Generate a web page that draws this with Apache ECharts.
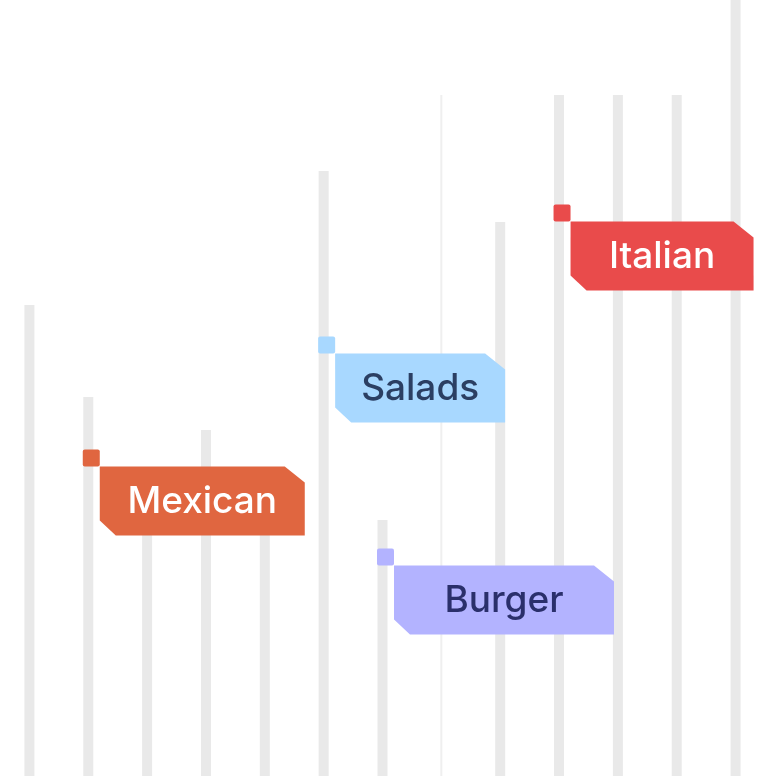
<!DOCTYPE html>
<html><head><meta charset="utf-8">
<script src="https://cdn.jsdelivr.net/npm/echarts@6/dist/echarts.min.js"></script>
<style>html,body{margin:0;padding:0;background:#fff}#c{width:776px;height:776px}</style>
</head><body><div id="c"></div>
<script>
const categories = ['c1','c2','c3','c4','c5','c6','c7','c8','c9','c10','c11','c12','c13'];
const barValues = [471, 379, 300, 346, 250, 605, 256, 681, 554, 681, 681, 681, 790];
const thinIndex = 7;
const tagLabels = ['Mexican', 'Salads', 'Burger', 'Italian'];
const tagCategory = [1, 5, 6, 9];
const tagValues = [318, 431, 219, 563];
const tagColors = ['#e06640', '#a8d8ff', '#b3b3ff', '#e94b4b'];
const tagTextColors = ['#ffffff', '#2b3f63', '#2a2f6b', '#ffffff'];
const tagWidths = [205, 170, 220, 183];

const chart = echarts.init(document.getElementById('c'));
chart.setOption({
  animation: false,
  grid: {left: -16, right: 11, top: 0, bottom: 0},
  xAxis: {type: 'category', data: categories, show: false},
  yAxis: {type: 'value', min: 0, max: 776, show: false},
  series: [
    {
      type: 'custom',
      data: barValues.map((v, i) => [i, v]),
      renderItem: (params, api) => {
        const i = api.value(0);
        const top = api.coord([i, api.value(1)]);
        const bot = api.coord([i, 0]);
        const w = i === thinIndex ? 2 : 10;
        return {type: 'rect', shape: {x: top[0] - w / 2, y: top[1], width: w, height: bot[1] - top[1]},
          style: {fill: i === thinIndex ? '#efefef' : '#e9e9e9'}};
      }
    },
    {
      type: 'custom',
      data: tagLabels.map((l, k) => [tagCategory[k], tagValues[k], k]),
      renderItem: (params, api) => {
        const k = api.value(2);
        const p = api.coord([api.value(0), api.value(1)]);
        const cx = p[0] + 3, cy = p[1];
        const s = 17;
        const x0 = cx + s / 2, y0 = cy + s / 2;
        const w = tagWidths[k], h = 69;
        const pts = [[x0, y0], [x0 + w - 20, y0], [x0 + w, y0 + 16], [x0 + w, y0 + h],
                     [x0 + 16, y0 + h], [x0, y0 + h - 15]];
        return {type: 'group', children: [
          {type: 'rect', shape: {x: cx - s / 2, y: cy - s / 2, width: s, height: s, r: 2}, style: {fill: tagColors[k]}},
          {type: 'polygon', shape: {points: pts}, style: {fill: tagColors[k]}},
          {type: 'text', style: {text: tagLabels[k], x: x0 + w / 2, y: y0 + h / 2 + 1, align: 'center', verticalAlign: 'middle',
            fill: tagTextColors[k], font: '500 37px Inter'}}
        ]};
      }
    }
  ]
});
</script></body></html>
